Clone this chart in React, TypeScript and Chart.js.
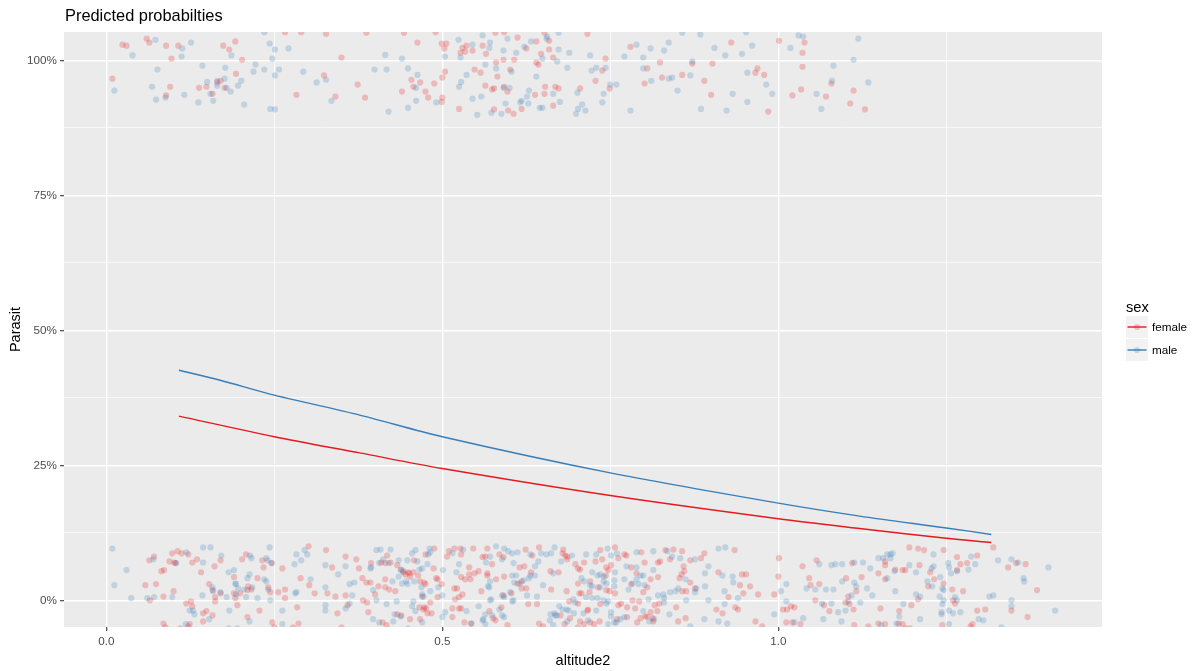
import React, { useEffect, useRef } from "react";
import { Chart, registerables } from "chart.js";

Chart.register(...registerables);

const FONT = '"Liberation Sans", Arial, Helvetica, sans-serif';

const chartTitle = "Predicted probabilties";
const xTitle = "altitude2";
const yTitle = "Parasit";
const legendTitle = "sex";
const seriesNames = ["female", "male"];
const seriesColors = ["#E41A1C", "#377EB8"];
const pointColors = ["rgba(228,26,28,0.24)", "rgba(55,126,184,0.24)"];

const xMajor = [0, 0.5, 1.0];
const xMinor = [0.25, 0.75, 1.25];
const xLabels = ["0.0", "0.5", "1.0"];
const yMajor = [0, 0.25, 0.5, 0.75, 1.0];
const yMinor = [0.125, 0.375, 0.625, 0.875];
const yLabels = ["0%", "25%", "50%", "75%", "100%"];
const xRange = [-0.063, 1.4817];
const yRange = [-0.0494, 1.0524];

// fitted curves
const femaleLine: [number, number][] = [
  [0.108, 0.341], [0.25, 0.303], [0.377, 0.273], [0.5, 0.244], [0.75, 0.194],
  [1.0, 0.151], [1.121, 0.133], [1.25, 0.115], [1.317, 0.107],
];
const maleLine: [number, number][] = [
  [0.108, 0.426], [0.168, 0.408], [0.25, 0.38], [0.377, 0.343], [0.5, 0.303],
  [0.75, 0.236], [1.0, 0.18], [1.121, 0.156], [1.25, 0.134], [1.317, 0.122],
];

// jittered observations (Parasit = 1)
const femaleTop: [number, number][] = [
  [0.024,1.029],[0.030,1.027],[0.060,1.040],[0.064,1.033],[0.089,1.027],[0.107,1.027],[0.097,1.003],[0.174,1.027],[0.183,1.020],[0.192,1.035],[0.202,1.001],[0.009,0.966],[0.095,0.951],[0.089,0.935],[0.138,0.949],[0.149,0.951],[0.158,0.938],[0.165,0.959],[0.170,0.962],[0.176,0.949],[0.193,0.975],[0.266,1.052],[0.290,1.052],[0.327,1.049],[0.324,0.972],[0.283,0.936],[0.341,0.933],[0.350,1.005],
  [0.387,1.051],[0.443,1.051],[0.490,1.052],[0.463,1.033],[0.499,1.031],[0.506,1.031],[0.503,1.022],[0.530,1.023],[0.536,1.027],[0.534,1.016],[0.527,1.014],[0.545,1.018],[0.560,1.027],[0.565,1.012],[0.579,1.051],[0.592,1.052],[0.612,1.042],[0.625,1.022],[0.640,1.035],[0.652,1.051],[0.659,1.036],[0.659,1.020],[0.647,1.012],[0.665,1.005],[0.640,0.996],[0.643,0.992],[0.607,1.001],[0.591,1.001],[0.580,0.996],[0.582,0.970],[0.601,0.983],[0.548,0.983],[0.557,0.977],[0.564,0.953],[0.574,0.946],[0.577,0.948],[0.592,0.951],[0.597,0.942],[0.500,0.968],[0.504,0.979],[0.454,0.964],[0.467,0.959],[0.457,0.951],[0.475,0.942],[0.479,0.931],[0.488,0.957],[0.440,0.942],[0.385,0.931],[0.374,0.955],[0.500,0.931],[0.499,0.923],[0.525,0.910],[0.577,0.909],[0.598,0.907],[0.606,0.901],[0.618,0.910],[0.638,0.936],[0.652,0.938],[0.653,0.951],[0.668,0.951],[0.673,0.948],[0.665,0.916],[0.705,0.948],[0.728,0.962],[0.738,0.981],[0.749,0.948],[0.743,1.003],[0.716,1.049],
  [0.780,1.025],[0.824,0.996],[0.805,0.985],[0.827,0.968],[0.801,0.957],[0.872,0.994],[0.857,0.973],[0.890,0.962],[0.902,0.994],[0.900,0.936],[0.930,1.033],[0.969,0.985],[0.966,0.977],[0.979,0.973],[0.985,0.905],[1.001,1.036],[1.039,1.033],[1.036,1.014],[1.036,0.988],[1.034,0.946],[1.021,0.935],[1.071,0.933],[1.079,0.957],[1.112,0.944],[1.107,0.920],[1.129,0.909],
];
const maleTop: [number, number][] = [
  [0.073,1.038],[0.113,1.022],[0.126,1.033],[0.112,1.007],[0.039,1.009],[0.076,0.983],[0.012,0.944],[0.068,0.951],[0.074,0.927],[0.088,0.931],[0.116,0.936],[0.137,0.922],[0.143,0.990],[0.150,0.960],[0.155,0.938],[0.159,0.925],[0.165,0.962],[0.165,0.953],[0.177,0.986],[0.176,0.966],[0.179,0.949],[0.185,0.942],[0.196,0.953],[0.201,0.962],[0.205,0.918],[0.186,1.009],[0.219,0.979],[0.222,0.992],[0.235,0.983],[0.235,1.052],[0.243,1.031],[0.251,1.020],[0.247,1.003],[0.271,1.022],[0.257,0.983],[0.251,0.972],[0.244,0.910],[0.251,0.909],[0.293,0.979],[0.313,0.959],[0.327,0.964],[0.335,0.925],
  [0.524,1.038],[0.560,1.046],[0.571,1.033],[0.570,1.023],[0.545,1.029],[0.591,1.018],[0.597,1.040],[0.610,1.014],[0.622,1.025],[0.632,1.035],[0.655,1.040],[0.656,1.044],[0.673,1.051],[0.673,1.020],[0.689,1.014],[0.720,1.009],[0.671,0.998],[0.649,1.003],[0.504,1.007],[0.527,1.005],[0.415,1.010],[0.440,1.003],[0.399,0.983],[0.417,0.983],[0.449,0.985],[0.463,0.973],[0.461,0.949],[0.461,0.925],[0.449,0.912],[0.420,0.905],[0.491,0.922],[0.525,0.951],[0.528,0.960],[0.536,0.973],[0.564,0.992],[0.580,0.985],[0.603,0.979],[0.591,0.949],[0.600,0.949],[0.545,0.929],[0.558,0.933],[0.552,0.899],[0.573,0.903],[0.588,0.901],[0.594,0.920],[0.616,0.922],[0.618,0.925],[0.628,0.920],[0.626,0.933],[0.629,0.944],[0.640,0.970],[0.645,0.912],[0.649,0.912],[0.665,0.938],[0.675,0.923],[0.686,0.986],[0.701,0.940],[0.708,0.918],[0.702,0.910],[0.713,0.907],[0.699,0.901],[0.722,0.981],[0.729,0.986],[0.743,0.986],[0.740,0.938],[0.738,0.922],[0.750,0.955],[0.759,0.955],
  [0.789,1.029],[0.810,1.022],[0.771,1.007],[0.799,1.005],[0.830,1.018],[0.837,1.033],[0.857,1.051],[0.884,1.048],[0.905,1.023],[0.921,1.009],[0.946,1.012],[0.961,1.027],[0.952,1.052],[0.872,0.998],[0.799,0.985],[0.811,0.962],[0.837,0.966],[0.842,0.968],[0.869,0.972],[0.850,0.944],[0.780,0.907],[0.885,0.910],[0.923,0.907],[0.932,0.938],[0.954,0.923],[0.954,0.977],[0.982,0.955],[0.991,0.938],[1.030,1.046],[1.037,1.044],[1.018,1.023],[1.119,1.040],[1.112,1.001],[1.082,0.990],[1.080,0.962],[1.057,0.938],[1.064,0.910],[1.134,0.959],
];

// jittered observations (Parasit = 0)
const femaleBottom: [number, number][] = [
  [0.064,0.074],[0.071,0.081],[0.098,0.087],[0.106,0.091],[0.112,0.087],[0.122,0.085],[0.094,0.072],[0.101,0.070],[0.103,0.069],[0.128,0.070],[0.135,0.076],[0.082,0.054],[0.086,0.056],[0.058,0.028],[0.074,0.030],[0.100,0.017],[0.085,0.007],[0.065,0.000],[0.119,-0.006],[0.126,-0.002],[0.128,-0.011],[0.144,-0.024],[0.149,-0.020],[0.158,-0.028],[0.144,-0.039],[0.085,-0.043],[0.088,-0.050],[0.110,-0.052],[0.124,-0.044],[0.122,-0.048],[0.161,0.063],[0.170,0.074],[0.141,0.052],[0.153,0.030],[0.158,0.019],[0.162,0.006],[0.162,-0.002],[0.170,0.013],[0.190,0.043],[0.192,0.004],[0.190,0.013],[0.195,-0.009],[0.199,0.013],[0.210,0.019],[0.211,0.026],[0.216,0.020],[0.208,0.085],[0.202,0.076],[0.232,0.074],[0.234,0.061],[0.246,0.069],[0.225,0.041],[0.241,0.024],[0.244,0.015],[0.256,0.015],[0.266,0.020],[0.266,0.004],[0.262,0.059],[0.289,0.041],[0.302,0.028],[0.310,0.013],[0.301,0.100],[0.284,-0.013],[0.228,-0.019],[0.210,-0.031],[0.247,-0.041],[0.250,-0.050],[0.286,-0.043],[0.278,-0.050],
  [0.327,0.093],[0.356,0.081],[0.372,0.076],[0.336,0.061],[0.376,0.059],[0.329,0.013],[0.341,0.007],[0.356,0.009],[0.359,-0.009],[0.382,0.000],[0.388,-0.004],[0.344,-0.024],[0.390,-0.022],[0.350,-0.050],[0.381,0.041],[0.387,0.033],[0.393,0.033],[0.394,0.069],[0.400,0.011],[0.405,0.026],[0.409,0.070],[0.415,0.069],[0.418,0.083],[0.423,0.070],[0.415,0.039],[0.415,0.024],[0.421,0.020],[0.430,0.017],[0.433,0.065],[0.439,0.057],[0.442,0.052],[0.445,0.048],[0.449,0.052],[0.451,0.050],[0.452,0.044],[0.457,0.052],[0.458,0.074],[0.464,0.046],[0.467,0.035],[0.473,0.033],[0.475,0.030],[0.475,0.085],[0.488,0.096],[0.487,0.059],[0.491,0.041],[0.493,0.039],[0.499,0.030],[0.470,0.007],[0.473,-0.013],[0.472,-0.017],[0.476,-0.015],[0.466,-0.013],[0.478,-0.024],[0.484,-0.024],[0.482,-0.004],[0.493,0.006],[0.452,-0.035],[0.439,-0.028],[0.433,-0.026],[0.411,-0.041],[0.417,-0.046],[0.467,-0.035],
  [0.510,0.091],[0.518,0.096],[0.527,0.096],[0.528,0.085],[0.507,0.081],[0.546,0.096],[0.567,0.096],[0.560,0.080],[0.564,0.081],[0.574,0.067],[0.585,0.085],[0.591,0.080],[0.540,0.061],[0.548,0.050],[0.554,0.054],[0.540,0.048],[0.528,0.043],[0.534,0.039],[0.542,0.039],[0.567,0.050],[0.567,0.046],[0.580,0.039],[0.592,0.044],[0.518,0.022],[0.522,0.022],[0.530,0.011],[0.525,0.006],[0.519,0.002],[0.558,0.017],[0.591,0.009],[0.603,0.013],[0.588,-0.013],[0.525,-0.015],[0.528,-0.015],[0.515,-0.015],[0.515,-0.031],[0.533,-0.041],[0.543,-0.043],[0.570,-0.020],[0.576,-0.033],[0.579,-0.037],[0.597,-0.046],[0.612,0.031],[0.615,0.061],[0.618,0.035],[0.622,0.063],[0.624,0.094],[0.634,0.083],[0.632,0.052],[0.644,0.098],[0.618,0.022],[0.628,-0.007],[0.641,-0.007],[0.625,0.022],[0.661,0.054],[0.662,0.020],[0.673,0.052],[0.680,0.094],[0.683,0.083],[0.686,0.081],[0.686,0.076],[0.679,0.087],[0.685,0.017],[0.698,0.067],[0.702,0.059],[0.702,0.031],[0.689,-0.002],[0.704,0.013],[0.676,-0.028],[0.690,-0.033],[0.682,-0.044],[0.644,-0.043],[0.650,-0.048],
  [0.705,0.057],[0.711,0.070],[0.728,0.072],[0.735,0.093],[0.738,0.076],[0.757,0.098],[0.762,0.078],[0.771,0.085],[0.774,0.083],[0.751,0.065],[0.744,0.061],[0.747,0.056],[0.743,0.046],[0.720,0.035],[0.732,0.024],[0.719,0.015],[0.707,0.013],[0.744,0.019],[0.749,0.017],[0.757,0.013],[0.702,-0.006],[0.717,-0.017],[0.716,-0.019],[0.735,-0.007],[0.766,-0.006],[0.775,-0.013],[0.783,0.000],[0.793,-0.002],[0.787,-0.015],[0.762,-0.009],[0.781,0.061],[0.789,0.050],[0.796,0.089],[0.801,0.070],[0.781,0.030],[0.799,0.015],[0.805,0.024],[0.810,0.039],[0.821,0.043],[0.821,0.070],[0.824,0.072],[0.832,0.093],[0.839,0.076],[0.844,0.094],[0.857,0.091],[0.859,0.063],[0.860,0.054],[0.856,0.048],[0.853,0.041],[0.869,0.074],[0.869,0.033],[0.876,0.022],[0.885,0.078],[0.890,0.087],[0.857,0.017],[0.863,0.017],[0.795,-0.033],[0.802,-0.030],[0.805,-0.030],[0.810,-0.022],[0.813,-0.033],[0.814,-0.039],[0.823,-0.006],[0.816,-0.009],[0.820,-0.020],[0.848,-0.013],[0.790,-0.041],[0.775,-0.031],[0.760,-0.035],[0.734,-0.039],[0.705,-0.039],[0.711,-0.044],[0.720,-0.041],[0.726,-0.044],[0.702,-0.050],[0.862,-0.033],[0.851,-0.039],[0.911,0.052],[0.935,0.093],[0.946,0.048],[0.952,0.048],[0.943,0.028],[0.948,0.013],[0.958,0.026],[0.970,0.011],[0.994,0.011],[1.001,0.078],[1.000,0.044],[0.936,-0.013],[0.940,-0.017],[0.926,0.006],[0.908,-0.017],[0.917,-0.024],[0.966,-0.039],[0.976,-0.048],[1.036,0.063],[1.046,0.041],[1.048,0.028],[1.057,0.074],[1.055,0.000],[1.061,0.030],[1.068,-0.009],[1.076,-0.020],[1.007,-0.017],[1.013,-0.017],[1.019,-0.011],[1.024,-0.013],[1.012,-0.041],[1.021,-0.041],[1.033,-0.044],
  [1.195,0.098],[1.208,0.096],[1.217,0.093],[1.246,0.093],[1.159,0.072],[1.159,0.065],[1.110,0.069],[1.149,0.050],[1.174,0.057],[1.185,0.056],[1.189,0.056],[1.210,0.065],[1.226,0.052],[1.232,0.039],[1.223,0.026],[1.246,0.031],[1.101,0.041],[1.124,0.043],[1.159,0.039],[1.116,0.017],[1.104,0.007],[1.100,-0.004],[1.106,-0.007],[1.112,-0.017],[1.152,-0.015],[1.180,-0.020],[1.198,-0.009],[1.208,0.002],[1.179,-0.043],[1.185,-0.044],[1.149,-0.043],[1.159,-0.044],[1.134,-0.048],[1.113,-0.046],[1.190,-0.052],[1.196,-0.052],[1.244,-0.046],[1.266,0.080],[1.271,0.067],[1.281,0.069],[1.296,0.083],[1.266,0.056],[1.259,0.020],[1.275,0.017],[1.260,0.000],[1.263,-0.006],[1.296,-0.019],[1.308,-0.017],[1.320,0.098],[1.342,0.061],[1.354,0.069],[1.368,0.067],[1.385,0.019],[1.347,-0.019],[1.371,-0.031],[1.289,-0.044],[1.286,-0.048],
];
const maleBottom: [number, number][] = [
  [0.009,0.096],[0.012,0.028],[0.030,0.056],[0.037,0.004],[0.061,0.004],[0.071,0.006],[0.070,0.076],[0.098,0.006],[0.104,0.069],[0.119,0.089],[0.144,0.098],[0.155,0.098],[0.144,0.070],[0.171,0.083],[0.143,0.009],[0.158,0.024],[0.159,0.017],[0.170,0.015],[0.179,0.006],[0.182,0.052],[0.190,0.056],[0.192,0.031],[0.193,0.030],[0.196,0.022],[0.193,0.011],[0.205,0.020],[0.208,0.006],[0.210,0.041],[0.213,0.048],[0.217,0.024],[0.214,0.083],[0.216,0.078],[0.225,0.004],[0.235,0.039],[0.238,0.035],[0.238,0.078],[0.240,0.074],[0.241,0.020],[0.243,0.098],[0.244,0.000],[0.246,0.069],[0.262,-0.019],[0.262,-0.044],[0.280,0.067],[0.283,0.085],[0.281,0.013],[0.283,0.015],[0.290,0.074],[0.295,0.093],[0.299,0.085],[0.304,0.039],[0.124,-0.019],[0.129,-0.019],[0.131,-0.026],[0.153,-0.035],[0.183,-0.019],[0.213,-0.039],[0.118,-0.044],[0.182,-0.052],[0.195,-0.052],
  [0.326,0.065],[0.345,0.048],[0.356,0.063],[0.326,0.024],[0.326,-0.009],[0.326,-0.019],[0.362,0.030],[0.369,0.033],[0.366,0.009],[0.362,-0.006],[0.356,-0.015],[0.402,0.093],[0.408,0.094],[0.423,0.094],[0.393,0.059],[0.394,0.061],[0.406,0.069],[0.412,0.076],[0.420,0.069],[0.426,0.035],[0.435,0.074],[0.438,0.056],[0.442,0.054],[0.448,0.074],[0.455,0.087],[0.460,0.093],[0.463,0.072],[0.435,0.044],[0.440,0.031],[0.446,0.035],[0.448,0.030],[0.458,0.035],[0.466,0.057],[0.470,0.059],[0.478,0.067],[0.481,0.096],[0.482,0.089],[0.479,0.085],[0.469,0.024],[0.470,0.011],[0.472,0.007],[0.482,0.017],[0.494,0.024],[0.500,0.009],[0.501,0.056],[0.504,-0.022],[0.500,-0.031],[0.432,-0.002],[0.417,-0.007],[0.402,0.000],[0.397,0.019],[0.429,-0.026],[0.438,-0.030],[0.457,-0.002],[0.455,-0.011],[0.460,-0.020],[0.470,-0.041],[0.397,-0.035],[0.406,-0.041],[0.427,-0.039],[0.449,-0.052],
  [0.525,0.067],[0.521,0.052],[0.515,0.087],[0.531,0.094],[0.571,0.081],[0.580,0.100],[0.592,0.096],[0.598,0.091],[0.589,0.076],[0.565,0.070],[0.571,0.035],[0.570,0.024],[0.568,0.026],[0.571,0.000],[0.573,0.002],[0.574,-0.028],[0.585,-0.017],[0.589,-0.028],[0.592,-0.031],[0.604,0.087],[0.612,0.089],[0.631,0.085],[0.606,0.069],[0.604,0.046],[0.610,0.046],[0.615,0.031],[0.607,0.033],[0.621,0.037],[0.629,0.041],[0.631,0.046],[0.638,0.046],[0.638,0.063],[0.643,0.072],[0.647,0.087],[0.655,0.085],[0.662,0.087],[0.667,0.098],[0.677,0.072],[0.665,0.050],[0.650,0.028],[0.641,0.007],[0.626,0.009],[0.606,0.000],[0.604,-0.002],[0.601,0.015],[0.589,0.009],[0.592,0.006],[0.554,-0.011],[0.561,-0.035],[0.560,-0.037],[0.564,-0.026],[0.536,-0.020],[0.543,-0.043],[0.661,-0.026],[0.667,-0.024],[0.668,-0.028],[0.670,-0.028],[0.674,-0.011],[0.679,-0.017],[0.685,-0.017],[0.688,-0.019],[0.693,0.083],[0.695,0.002],[0.698,-0.004],[0.660,-0.037],[0.665,-0.046],[0.686,-0.039],[0.696,-0.024],[0.564,-0.044],
  [0.714,0.085],[0.729,0.085],[0.746,0.096],[0.751,0.083],[0.760,0.087],[0.789,0.089],[0.814,0.091],[0.835,0.091],[0.842,0.081],[0.854,0.078],[0.876,0.076],[0.814,0.056],[0.774,0.063],[0.789,0.061],[0.723,0.052],[0.731,0.046],[0.735,0.048],[0.740,0.044],[0.757,0.052],[0.756,0.037],[0.771,0.039],[0.789,0.039],[0.795,0.046],[0.799,0.046],[0.707,0.041],[0.711,0.035],[0.740,0.035],[0.723,0.026],[0.735,0.024],[0.744,0.031],[0.720,0.028],[0.756,0.026],[0.777,0.020],[0.783,0.031],[0.792,0.030],[0.801,0.028],[0.714,0.006],[0.723,0.004],[0.731,0.004],[0.740,0.000],[0.747,-0.002],[0.744,-0.006],[0.807,0.002],[0.821,0.009],[0.829,0.011],[0.830,0.004],[0.830,-0.004],[0.839,0.015],[0.847,0.017],[0.851,0.022],[0.862,0.039],[0.863,0.000],[0.876,0.015],[0.878,0.022],[0.891,0.050],[0.891,0.026],[0.896,0.000],[0.896,0.063],[0.911,0.096],[0.921,0.098],[0.917,0.046],[0.932,0.044],[0.933,0.033],[0.920,0.017],[0.940,0.004],[0.920,-0.007],[0.751,-0.022],[0.729,-0.019],[0.710,-0.024],[0.751,-0.030],[0.771,-0.031],[0.765,-0.035],[0.759,-0.041],[0.747,-0.044],[0.756,-0.041],[0.838,-0.026],[0.799,-0.020],[0.808,-0.039],[0.815,-0.035],[0.890,-0.035],[0.911,-0.039],[0.924,-0.043],[0.717,-0.037],[0.994,-0.026],[1.004,0.017],[1.012,0.030],[1.012,-0.002],[1.042,0.022],[1.055,0.020],[1.061,0.067],[1.071,0.020],[1.079,0.065],[1.082,0.020],[1.085,0.067],[1.065,-0.006],[1.079,-0.006],[1.067,-0.035],[1.037,-0.033],[1.024,-0.041],[0.869,-0.048],
  [1.095,0.067],[1.113,0.070],[1.126,0.070],[1.149,0.078],[1.156,0.078],[1.162,0.085],[1.167,0.085],[1.170,0.087],[1.167,0.078],[1.231,0.085],[1.137,0.059],[1.173,0.054],[1.195,0.065],[1.205,0.052],[1.231,0.063],[1.228,0.059],[1.241,0.043],[1.095,0.035],[1.113,0.033],[1.116,0.026],[1.132,0.022],[1.140,0.009],[1.174,0.017],[1.162,0.041],[1.222,0.035],[1.229,0.026],[1.244,0.022],[1.246,0.019],[1.104,-0.002],[1.122,-0.004],[1.109,0.009],[1.089,-0.022],[1.100,-0.019],[1.094,-0.039],[1.186,-0.007],[1.211,0.007],[1.205,0.011],[1.240,0.007],[1.246,0.000],[1.244,-0.007],[1.243,-0.022],[1.243,-0.026],[1.180,-0.030],[1.211,-0.035],[1.176,-0.043],[1.153,-0.046],[1.253,0.069],[1.254,0.061],[1.257,0.050],[1.287,0.081],[1.293,0.067],[1.283,0.057],[1.266,0.054],[1.263,0.006],[1.266,0.000],[1.260,-0.024],[1.271,-0.022],[1.254,-0.019],[1.254,-0.044],[1.298,-0.035],[1.305,-0.037],[1.314,0.007],[1.320,0.009],[1.327,0.074],[1.347,0.076],[1.357,0.070],[1.365,0.041],[1.366,0.035],[1.347,0.000],[1.347,-0.011],[1.402,0.061],[1.412,-0.019],[1.332,-0.050],
];

const toXY = (arr: [number, number][]) => arr.map(([x, y]) => ({ x, y }));
const xTicks = [...xMajor, ...xMinor].sort((a, b) => a - b);
const yTicks = [...yMajor, ...yMinor].sort((a, b) => a - b);

const decor = {
  id: "decor",
  beforeDraw(chart: any) {
    const { ctx, chartArea: a } = chart;
    ctx.save();
    ctx.fillStyle = "#FFFFFF";
    ctx.fillRect(0, 0, chart.width, chart.height);
    ctx.fillStyle = "#EBEBEB";
    ctx.fillRect(a.left, a.top, a.right - a.left, a.bottom - a.top);
    ctx.restore();
  },
  afterDraw(chart: any) {
    const { ctx, chartArea: a } = chart;
    ctx.save();
    ctx.fillStyle = "#000000";
    ctx.textAlign = "left";
    ctx.textBaseline = "alphabetic";
    ctx.font = `16.4px ${FONT}`;
    ctx.fillText(chartTitle, a.left + 1, 20.7);

    ctx.font = `14.5px ${FONT}`;
    ctx.textAlign = "center";
    ctx.fillText(xTitle, (a.left + a.right) / 2, 664.5);
    ctx.save();
    ctx.translate(19.5, (a.top + a.bottom) / 2);
    ctx.rotate(-Math.PI / 2);
    ctx.fillText(yTitle, 0, 0);
    ctx.restore();

    // legend
    const lx = a.right + 24;
    ctx.textAlign = "left";
    ctx.font = `14.7px ${FONT}`;
    ctx.fillText(legendTitle, lx, 311.5);
    seriesNames.forEach((name, i) => {
      const y0 = 316 + i * 23;
      ctx.fillStyle = "#F2F2F2";
      ctx.fillRect(lx, y0, 22, 22);
      const cy = y0 + 11;
      ctx.strokeStyle = seriesColors[i];
      ctx.lineWidth = 1.4;
      ctx.beginPath();
      ctx.moveTo(lx + 1.5, cy);
      ctx.lineTo(lx + 20.5, cy);
      ctx.stroke();
      ctx.fillStyle = pointColors[i];
      ctx.beginPath();
      ctx.arc(lx + 11, cy, 3.1, 0, Math.PI * 2);
      ctx.fill();
      ctx.fillStyle = "#000000";
      ctx.font = `11.7px ${FONT}`;
      ctx.textBaseline = "middle";
      ctx.fillText(name, lx + 26, cy + 0.5);
      ctx.textBaseline = "alphabetic";
    });
    ctx.restore();
  },
};

const gridWidth = (majors: number[]) => (c: any) =>
  c.tick && majors.includes(c.tick.value) ? 1.42 : 0.71;
const tickColor = (majors: number[]) => (c: any) =>
  c.tick && majors.includes(c.tick.value) ? "#333333" : "rgba(0,0,0,0)";

export default function App() {
  const ref = useRef<HTMLCanvasElement>(null);
  useEffect(() => {
    document.body.style.margin = "0";
    const pointDs = (data: [number, number][], i: number) => ({
      type: "scatter" as const,
      data: toXY(data),
      backgroundColor: pointColors[i],
      borderWidth: 0,
      pointRadius: 3.1,
      pointHoverRadius: 3.1,
      showLine: false,
    });
    const lineDs = (data: [number, number][], i: number) => ({
      type: "scatter" as const,
      data: toXY(data),
      borderColor: seriesColors[i],
      backgroundColor: seriesColors[i],
      borderWidth: 1.4,
      pointRadius: 0,
      showLine: true,
      tension: 0.3,
      fill: false,
    });
    const chart = new Chart(ref.current as HTMLCanvasElement, {
      type: "scatter",
      data: {
        datasets: [
          pointDs(maleBottom, 1),
          pointDs(femaleBottom, 0),
          pointDs(maleTop, 1),
          pointDs(femaleTop, 0),
          lineDs(femaleLine, 0),
          lineDs(maleLine, 1),
        ] as any,
      },
      options: {
        animation: false,
        responsive: false,
        events: [],
        layout: { padding: { left: 0, top: 32, right: 102, bottom: 0 } },
        plugins: { legend: { display: false }, tooltip: { enabled: false }, title: { display: false } },
        scales: {
          x: {
            type: "linear",
            position: "bottom",
            min: xRange[0],
            max: xRange[1],
            afterBuildTicks: (s: any) => { s.ticks = xTicks.map((v) => ({ value: v })); },
            afterFit: (s: any) => { s.height = 44; },
            border: { display: false },
            grid: {
              color: "#FFFFFF",
              lineWidth: gridWidth(xMajor),
              drawTicks: true,
              tickLength: 4,
              tickColor: tickColor(xMajor),
              tickWidth: 1.07,
            },
            ticks: {
              autoSkip: false,
              maxRotation: 0,
              padding: 4,
              color: "#4D4D4D",
              font: { family: FONT, size: 11.7 },
              callback: (v: any) => { const k = xMajor.indexOf(v); return k >= 0 ? xLabels[k] : ""; },
            },
          },
          y: {
            type: "linear",
            position: "left",
            min: yRange[0],
            max: yRange[1],
            afterBuildTicks: (s: any) => { s.ticks = yTicks.map((v) => ({ value: v })); },
            afterFit: (s: any) => { s.width = 64; },
            border: { display: false },
            grid: {
              color: "#FFFFFF",
              lineWidth: gridWidth(yMajor),
              drawTicks: true,
              tickLength: 4,
              tickColor: tickColor(yMajor),
              tickWidth: 1.07,
            },
            ticks: {
              autoSkip: false,
              padding: 3,
              color: "#4D4D4D",
              font: { family: FONT, size: 11.7 },
              callback: (v: any) => { const k = yMajor.indexOf(v); return k >= 0 ? yLabels[k] : ""; },
            },
          },
        },
      } as any,
      plugins: [decor],
    });
    return () => chart.destroy();
  }, []);
  return (
    <div style={{ width: 1204, height: 671 }}>
      <canvas ref={ref} width={1204} height={671} style={{ display: "block", width: 1204, height: 671 }} />
    </div>
  );
}
